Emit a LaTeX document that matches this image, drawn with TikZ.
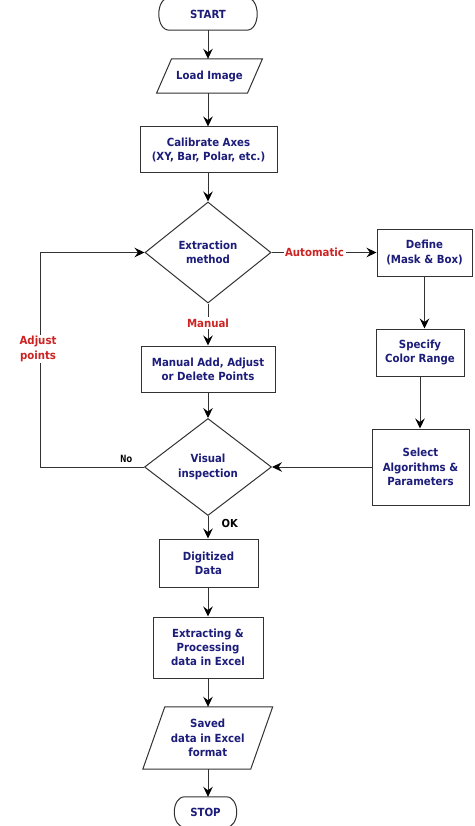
\documentclass[tikz,border=0pt]{standalone}
\usepackage{fontspec}
\usetikzlibrary{shapes.geometric,arrows.meta,calc}
\newfontfamily\labfont{DejaVu Sans}[FakeStretch=0.91]
\newfontfamily\monofont{DejaVu Sans Mono}
\definecolor{navy}{RGB}{28,28,122}
\definecolor{redc}{RGB}{205,35,35}
\definecolor{linec}{RGB}{50,50,50}
\newcommand\termshape[1]{\draw[outline] ([xshift=12pt]#1.north west) -- ([xshift=-12pt]#1.north east) .. controls ([xshift=2pt]#1.north east) and ([xshift=2pt]#1.south east) .. ([xshift=-12pt]#1.south east) -- ([xshift=12pt]#1.south west) .. controls ([xshift=-2pt]#1.south west) and ([xshift=-2pt]#1.north west) .. cycle;}
\newcommand\parashape[2]{\draw[outline] ([xshift=#2]#1.north west) -- ([xshift=#2]#1.north east) -- ([xshift=-#2]#1.south east) -- ([xshift=-#2]#1.south west) -- cycle;}
\begin{document}
\begin{tikzpicture}[x=1pt,y=-1pt,
  txt/.style={text=navy, font=\labfont\bfseries\fontsize{11.2}{14.3}\selectfont, align=center, inner sep=2pt},
  outline/.style={draw=linec, line width=1pt, fill=white},
  box/.style={txt, draw=linec, line width=1pt, fill=white, rectangle},
  dia/.style={txt, draw=linec, line width=1pt, fill=white, diamond, inner sep=0pt},
  con/.style={draw=linec, line width=1pt, -{Stealth[length=10pt,width=9.5pt,inset=3.5pt,color=black]}},
  redlab/.style={text=redc, font=\labfont\bfseries\fontsize{11.2}{14.3}\selectfont, align=center, fill=white, inner sep=1.5pt},
  monolab/.style={text=black, font=\monofont\bfseries\fontsize{10}{12}\selectfont, inner sep=1pt},
  oklab/.style={text=black, font=\labfont\bfseries\fontsize{11}{12}\selectfont, inner sep=1pt}]
\useasboundingbox (0,0) rectangle (474,826);
\fill[white] (0,0) rectangle (474,826);

% START
\node[txt, minimum width=101pt, minimum height=32pt] (start) at (208,14) {};
\termshape{start}
\node[txt] at (start.center) {START};

% Load image
\node[txt, minimum width=90.5pt, minimum height=34pt] (load) at (209.5,76) {};
\parashape{load}{7.5pt}
\node[txt] at (load.center) {Load Image};

\node[box, minimum width=137pt, minimum height=46pt] (cal) at (208.5,150) {Calibrate Axes\\(XY, Bar, Polar, etc.)};
\node[dia, minimum width=126pt, minimum height=101pt] (ext) at (208,252.5) {Extraction\\method};
\node[box, minimum width=134pt, minimum height=46pt] (man) at (208,369) {Manual Add, Adjust\\or Delete Points};
\node[dia, minimum width=127pt, minimum height=97pt] (vis) at (208,467) {Visual\\inspection};
\node[box, minimum width=99pt, minimum height=48pt] (dig) at (208.5,563) {Digitized\\Data};
\node[box, minimum width=110pt, minimum height=61pt] (xtr) at (208,647.5) {Extracting \&\\Processing\\data in Excel};

% Saved
\node[txt, minimum width=107.5pt, minimum height=62pt] (saved) at (207.75,738) {};
\parashape{saved}{11pt}
\node[txt] at (saved.center) {Saved\\data in Excel\\format};

% STOP
\node[txt, minimum width=65pt, minimum height=30pt] (stop) at (205.5,812) {};
\termshape{stop}
\node[txt] at (stop.center) {STOP};

\node[box, minimum width=95pt, minimum height=47pt] (def) at (424.5,252.5) {Define\\(Mask \& Box)};
\node[box, minimum width=88pt, minimum height=47pt] (spec) at (420,352.5) {Specify\\Color Range};
\node[box, minimum width=97pt, minimum height=76pt] (sel) at (420.5,467) {Select\\Algorithms \&\\Parameters};

% connectors
\draw[con] (start.south) -- (start.south |- load.north);
\draw[con] (start.south |- load.south) -- (start.south |- cal.north);
\draw[con] (start.south |- cal.south) -- (ext.north);
\draw[con] (ext.south) -- node[redlab, pos=0.47] {Manual} (man.north);
\draw[con] (ext.east) -- node[redlab, pos=0.41] {Automatic} (def.west);
\draw[con] (def.south) -- (def.south |- spec.north);
\draw[con] (spec.south) -- (spec.south |- sel.north);
\draw[con] (sel.west) -- (vis.east);
\draw[con] (man.south) -- (vis.north);
\coordinate (lp) at (40,467);
\draw[con] (vis.west) -- node[monolab, pos=0.17, above=3pt] {No} (lp) |- node[redlab, pos=0.275, xshift=-2pt] {Adjust\\points} (ext.west);
\draw[con] (vis.south) -- node[oklab, pos=0.33, right=12pt] {OK} (vis.south |- dig.north);
\draw[con] (vis.south |- dig.south) -- (xtr.north);
\draw[con] (xtr.south) -- (xtr.south |- saved.north);
\draw[con] (xtr.south |- saved.south) -- (xtr.south |- stop.north);
\end{tikzpicture}
\end{document}
